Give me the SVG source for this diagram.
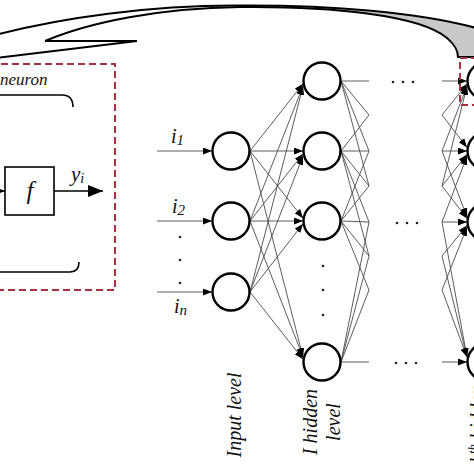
<svg xmlns="http://www.w3.org/2000/svg" width="474" height="474" viewBox="0 0 474 474">
<style>
.node{fill:#fff;stroke:#000;stroke-width:2.4}
.cn{stroke:#4a4a4a;stroke-width:0.9;fill:none}
.ca{stroke:#4a4a4a;stroke-width:0.9;fill:none;marker-end:url(#ah)}
.dot{fill:#222}
.lbl{font-family:"Liberation Serif","DejaVu Serif",serif;font-style:italic;fill:#111}
.red{fill:none;stroke:#a8323f;stroke-width:2;stroke-dasharray:7,4}
.rib{fill:none;stroke:#000;stroke-width:2}
</style>
<defs>
<marker id="ah" markerUnits="userSpaceOnUse" markerWidth="9" markerHeight="7" refX="9" refY="3.5" orient="auto">
<path d="M0,0 L9,3.5 L0,7 z" fill="#000"/>
</marker>
<marker id="big" markerUnits="userSpaceOnUse" markerWidth="15" markerHeight="12" refX="15" refY="6" orient="auto">
<path d="M0,0 L15,6 L0,12 z" fill="#000"/>
</marker>
</defs>
<rect width="474" height="474" fill="#fff"/>

<g id="ribbon">
<path d="M240,5.5 C330,5 420,12 480,29 L480,57 L458,57 C458,50 455,45 447,38 C420,15 330,6 240,7 Z" fill="#c8c8c8"/>
<path class="rib" d="M-5,35 C60,18 150,5 240,5.5 C330,5 420,12 480,29"/>
<path class="rib" d="M45,41 C90,22 160,8 240,7 C330,6 420,15 447,38 C455,45 458,50 458,57 L480,57"/>
<path class="rib" d="M45,41 L137,41 L-5,58"/>
</g>

<g id="neuron">
<rect class="red" x="-10" y="64" width="125" height="226"/>
<text class="lbl" x="0" y="85" font-size="17">neuron</text>
<path d="M-5,95 H62 Q73,95 73,107" fill="none" stroke="#000" stroke-width="1.6"/>
<path d="M-5,272 H70 Q79,272 79,262" fill="none" stroke="#000" stroke-width="1.6"/>
<rect x="5" y="167" width="49" height="48" fill="#fff" stroke="#000" stroke-width="1.6"/>
<text class="lbl" x="30" y="199" font-size="25" text-anchor="middle">f</text>
<line x1="-20" y1="191" x2="5" y2="191" stroke="#000" stroke-width="1.4" marker-end="url(#ah)"/>
<line x1="54" y1="191" x2="103" y2="191" stroke="#000" stroke-width="1.6" marker-end="url(#big)"/>
<text class="lbl" x="71" y="181" font-size="21">y<tspan font-size="14" dy="2">i</tspan></text>
</g>

<g id="connectors">
<line class="ca" x1="157" y1="151" x2="212" y2="151"/>
<line class="ca" x1="157" y1="221" x2="212" y2="221"/>
<line class="ca" x1="157" y1="292" x2="212" y2="292"/>

<line class="ca" x1="250" y1="151" x2="303" y2="83.8"/>
<line class="ca" x1="250" y1="151" x2="303" y2="151"/>
<line class="ca" x1="250" y1="151" x2="303" y2="218.2"/>
<line class="ca" x1="250" y1="151" x2="303" y2="357"/>
<line class="ca" x1="250" y1="221" x2="303" y2="86"/>
<line class="ca" x1="250" y1="221" x2="303" y2="153.8"/>
<line class="ca" x1="250" y1="221" x2="303" y2="221"/>
<line class="ca" x1="250" y1="221" x2="303" y2="357"/>
<line class="ca" x1="250" y1="292" x2="303" y2="86"/>
<line class="ca" x1="250" y1="292" x2="303" y2="156"/>
<line class="ca" x1="250" y1="292" x2="303" y2="223.8"/>
<line class="ca" x1="250" y1="292" x2="303" y2="359.2"/>

<line class="cn" x1="341" y1="81" x2="369" y2="81"/>
<line class="cn" x1="341" y1="81" x2="369" y2="115"/>
<line class="cn" x1="341" y1="81" x2="369" y2="151"/>
<line class="cn" x1="341" y1="81" x2="369" y2="186"/>
<line class="cn" x1="341" y1="151" x2="369" y2="115"/>
<line class="cn" x1="341" y1="151" x2="369" y2="151"/>
<line class="cn" x1="341" y1="151" x2="369" y2="186"/>
<line class="cn" x1="341" y1="151" x2="369" y2="222"/>
<line class="cn" x1="341" y1="151" x2="369" y2="256"/>
<line class="cn" x1="341" y1="221" x2="369" y2="151"/>
<line class="cn" x1="341" y1="221" x2="369" y2="186"/>
<line class="cn" x1="341" y1="221" x2="369" y2="222"/>
<line class="cn" x1="341" y1="221" x2="369" y2="256"/>
<line class="cn" x1="341" y1="221" x2="369" y2="290"/>
<line class="cn" x1="341" y1="362" x2="369" y2="222"/>
<line class="cn" x1="341" y1="362" x2="369" y2="256"/>
<line class="cn" x1="341" y1="362" x2="369" y2="290"/>
<line class="cn" x1="341" y1="362" x2="369" y2="362"/>

<line class="ca" x1="442" y1="81" x2="467" y2="81"/>
<line class="ca" x1="442" y1="115" x2="467" y2="84"/>
<line class="ca" x1="442" y1="151" x2="467" y2="86"/>
<line class="ca" x1="442" y1="186" x2="467" y2="86"/>
<line class="ca" x1="442" y1="115" x2="467" y2="147.4"/>
<line class="ca" x1="442" y1="151" x2="467" y2="151"/>
<line class="ca" x1="442" y1="186" x2="467" y2="154.5"/>
<line class="ca" x1="442" y1="222" x2="467" y2="156"/>
<line class="ca" x1="442" y1="151" x2="467" y2="217"/>
<line class="ca" x1="442" y1="186" x2="467" y2="218.4"/>
<line class="ca" x1="442" y1="222" x2="467" y2="222"/>
<line class="ca" x1="442" y1="256" x2="467" y2="225.4"/>
<line class="ca" x1="442" y1="290" x2="467" y2="227"/>
<line class="ca" x1="442" y1="222" x2="467" y2="357"/>
<line class="ca" x1="442" y1="256" x2="467" y2="357"/>
<line class="ca" x1="442" y1="290" x2="467" y2="357"/>
<line class="ca" x1="442" y1="362" x2="467" y2="362"/>
</g>

<g id="input-labels">
<text class="lbl" x="171" y="143" font-size="20">i<tspan font-size="15" dy="2">1</tspan></text>
<text class="lbl" x="172" y="213" font-size="20">i<tspan font-size="15" dy="2">2</tspan></text>
<text class="lbl" x="174" y="313" font-size="20">i<tspan font-size="15" dy="2">n</tspan></text>
<circle class="dot" cx="180" cy="237" r="1.3"/>
<circle class="dot" cx="180" cy="260" r="1.3"/>
<circle class="dot" cx="180" cy="283" r="1.3"/>
</g>

<g id="input-1"><circle class="node" cx="231" cy="151" r="18.5"/></g>
<g id="input-2"><circle class="node" cx="231" cy="221" r="18.5"/></g>
<g id="input-n"><circle class="node" cx="231" cy="292" r="18.5"/></g>

<g id="hidden1-1"><circle class="node" cx="322" cy="81" r="18.5"/></g>
<g id="hidden1-2"><circle class="node" cx="322" cy="151" r="18.5"/></g>
<g id="hidden1-3"><circle class="node" cx="322" cy="221" r="18.5"/></g>
<g id="hidden1-n"><circle class="node" cx="322" cy="362" r="18.5"/></g>
<g id="hidden1-dots">
<circle class="dot" cx="323" cy="266" r="1.3"/>
<circle class="dot" cx="323" cy="290" r="1.3"/>
<circle class="dot" cx="323" cy="315" r="1.3"/>
</g>

<g id="ellipses">
<circle class="dot" cx="393" cy="82" r="1.3"/><circle class="dot" cx="403" cy="82" r="1.3"/><circle class="dot" cx="413" cy="82" r="1.3"/>
<circle class="dot" cx="397" cy="223" r="1.3"/><circle class="dot" cx="407" cy="223" r="1.3"/><circle class="dot" cx="417" cy="223" r="1.3"/>
<circle class="dot" cx="396" cy="363" r="1.3"/><circle class="dot" cx="406" cy="363" r="1.3"/><circle class="dot" cx="416" cy="363" r="1.3"/>
</g>

<g id="last-1"><circle class="node" cx="486" cy="81" r="18.5"/></g>
<g id="last-2"><circle class="node" cx="486" cy="151" r="18.5"/></g>
<g id="last-3"><circle class="node" cx="486" cy="222" r="18.5"/></g>
<g id="last-n"><circle class="node" cx="486" cy="362" r="18.5"/></g>
<rect class="red" x="460" y="58" width="30" height="47"/>

<g id="level-labels">
<text class="lbl" font-size="20" text-anchor="middle" transform="translate(241,415) rotate(-90)">Input level</text>
<text class="lbl" font-size="20" text-anchor="middle" transform="translate(317,422) rotate(-90)">I hidden</text>
<text class="lbl" font-size="20" text-anchor="middle" transform="translate(340,422) rotate(-90)">level</text>
<text class="lbl" font-size="20" transform="translate(484,463) rotate(-90)">k<tspan font-size="13" dy="-7">th</tspan><tspan dy="7"> hidden</tspan></text>
</g>
</svg>
